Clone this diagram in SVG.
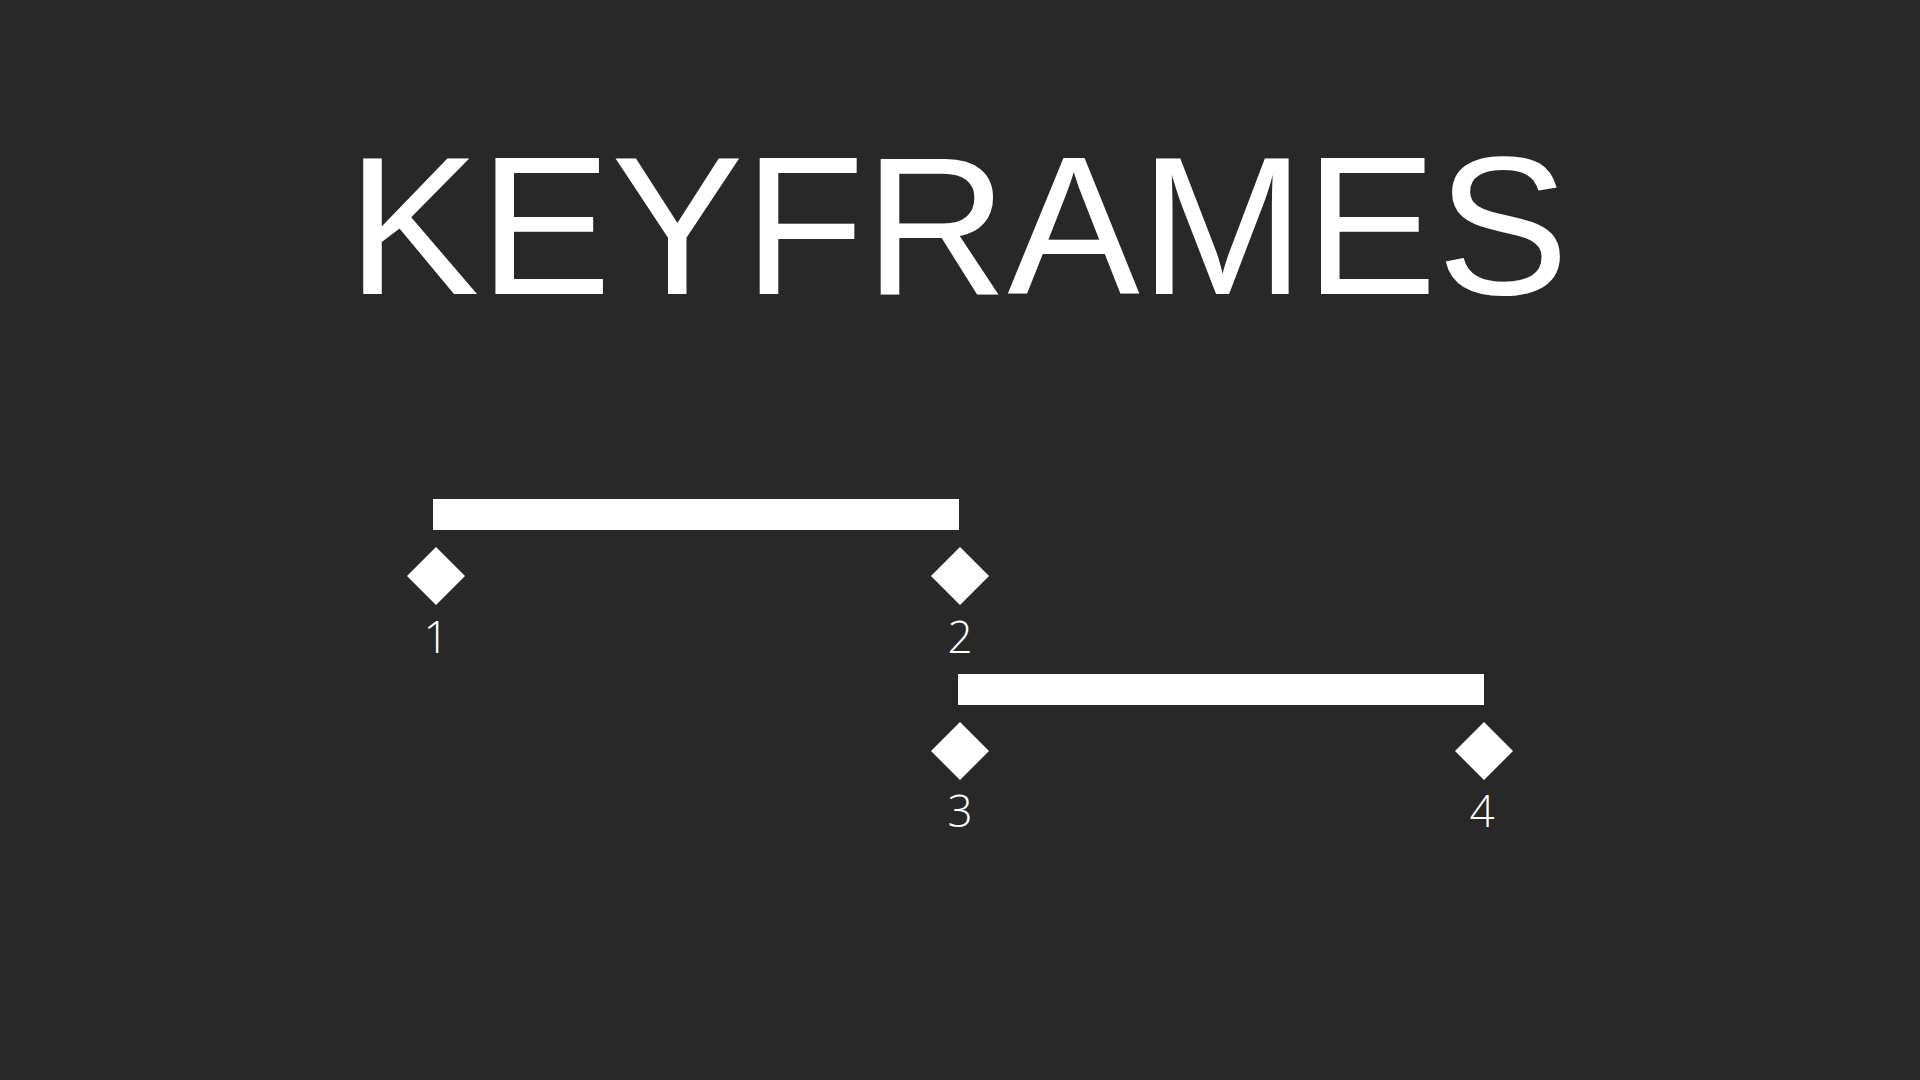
<svg xmlns="http://www.w3.org/2000/svg" width="1920" height="1080" viewBox="0 0 1920 1080">
  <defs>
    <style>
      .bar { fill: #ffffff; }
      .key { fill: #ffffff; }
      .lbl { fill: #ffffff; font-family: "Open Sans", "Liberation Sans", sans-serif; font-weight: 300; font-size: 44px; text-anchor: middle; }
      .title { fill: #ffffff; font-family: "Liberation Sans", "Noto Sans", sans-serif; font-size: 197px; text-anchor: middle; }
    </style>
    <polygon id="diamond" points="0,-29 29,0 0,29 -29,0"/>
  </defs>
  <rect x="0" y="0" width="1920" height="1080" fill="#282828"/>
  <g id="title">
    <text class="title" x="958" y="294" textLength="1222" lengthAdjust="spacingAndGlyphs">KEYFRAMES</text>
  </g>
  <g id="connectors">
    <rect class="bar" x="433" y="499" width="526" height="31"/>
    <rect class="bar" x="958" y="674" width="526" height="31"/>
  </g>
  <g id="key1">
    <use href="#diamond" class="key" x="436" y="576"/>
    <text class="lbl" x="436" y="653">1</text>
  </g>
  <g id="key2">
    <use href="#diamond" class="key" x="960" y="576"/>
    <text class="lbl" x="960" y="653">2</text>
  </g>
  <g id="key3">
    <use href="#diamond" class="key" x="960" y="751"/>
    <text class="lbl" x="960" y="827">3</text>
  </g>
  <g id="key4">
    <use href="#diamond" class="key" x="1484" y="751"/>
    <text class="lbl" x="1482" y="827">4</text>
  </g>
</svg>
